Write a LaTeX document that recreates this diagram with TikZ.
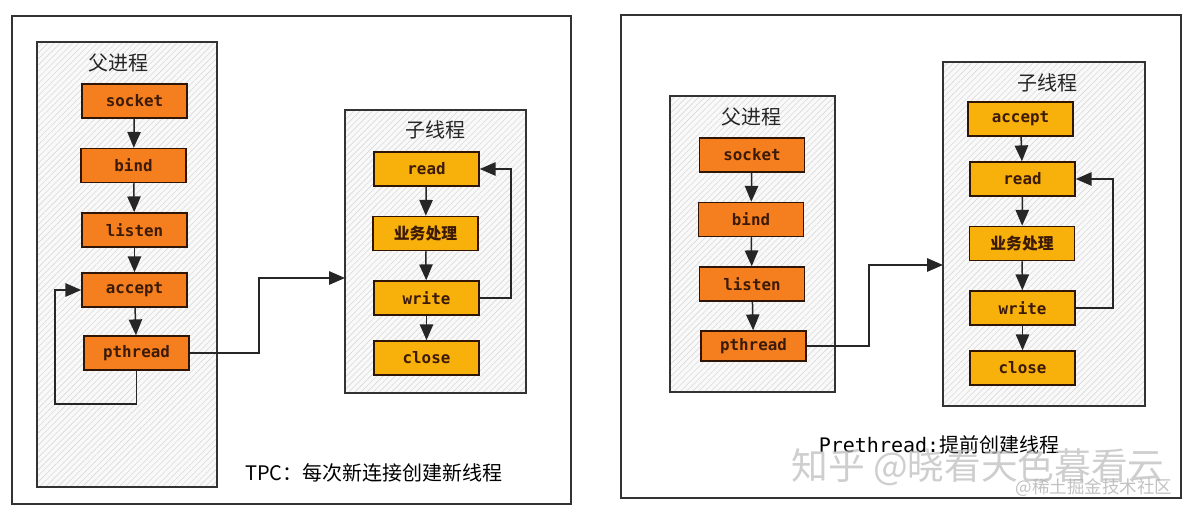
\documentclass[tikz,border=0pt]{standalone}
\usepackage{fontspec}
\setmonofont{DejaVu Sans Mono}
\newfontfamily\cjk{Noto Sans CJK SC}
\usetikzlibrary{arrows.meta,patterns.meta}
\definecolor{chengse}{HTML}{F57F1E}
\definecolor{huangse}{HTML}{F8B00A}
\definecolor{zise}{HTML}{3B1A08}
\definecolor{kuang}{HTML}{333333}

\begin{document}
\begin{tikzpicture}[x=0.6pt,y=-0.6pt,
  frame/.style={draw=kuang,line width=1.3pt},
  proc/.style={draw=kuang,line width=1.1pt,inner sep=0pt,preaction={fill=gray!5},
    pattern={Lines[angle=45,distance=2.6pt,line width=0.35pt]},pattern color=gray!30},
  fn/.style={draw=zise!80!black,line width=0.9pt,minimum width=63pt,minimum height=20.4pt,
    inner sep=0pt,font=\ttfamily\bfseries\fontsize{9.5}{11}\selectfont,text=zise},
  fu/.style={fn,fill=chengse},
  zi/.style={fn,fill=huangse},
  cn/.style={font=\cjk\bfseries\fontsize{9.5}{11}\selectfont},
  title/.style={font=\cjk\fontsize{12}{14}\selectfont,text=black!85},
  arr/.style={draw=black!85,line width=0.9pt,-{Triangle[length=9.5pt,width=8pt]}}]
\useasboundingbox (0,0) rectangle (1188,514);
\draw[frame] (12,16) rectangle (571,504);
\draw[frame] (621,15) rectangle (1181,498);

% TPC
\node[proc,minimum width=108pt,minimum height=267pt] (tjc) at (127,264.5) {};
\node[title] (tjcbt) at (118,63) {父进程};
\node[fu] (tsocket) at (134.5,101) {socket};
\node[fu] (tbind) at (133.5,165.5) {bind};
\node[fu] (tlisten) at (134.5,230) {listen};
\node[fu] (taccept) at (134.5,290) {accept};
\node[fu] (tpthread) at (136.5,353) {pthread};
\node[proc,minimum width=108.6pt,minimum height=169.8pt] (txc) at (435.5,251.5) {};
\node[title] (txcbt) at (435,130) {子线程};
\node[zi] (tread) at (426.5,169) {read};
\node[zi,cn] (tyw) at (425.5,233.5) {业务处理};
\node[zi] (twrite) at (426.5,298) {write};
\node[zi] (tclose) at (426.5,358) {close};
\coordinate (tin) at (345,278);
\foreach \a/\b in {tsocket/tbind,tbind/tlisten,tlisten/taccept,taccept/tpthread,
  tread/tyw,tyw/twrite,twrite/tclose}
  \draw[arr] (\a) -- (\b);
\draw[arr] (tpthread.south) |- (55,404) |- (taccept.west);
\draw[arr] (tpthread.east) -| (259,278) -- (tin);
\draw[arr] (twrite.east) -| (511,169) -- (tread.east);
\node[font=\cjk\fontsize{12}{14}\selectfont] (tpc) at (374,473) {TPC：每次新连接创建新线程};

% Prethread
\node[proc,minimum width=99pt,minimum height=177.6pt] (pjc) at (752.5,244) {};
\node[title] (pjcbt) at (751,117) {父进程};
\node[fu] (psocket) at (752,155) {socket};
\node[fu] (pbind) at (751,219.5) {bind};
\node[fu] (plisten) at (752,284) {listen};
\node[fu,minimum height=18pt] (ppthread) at (753.5,346) {pthread};
\node[proc,minimum width=121.2pt,minimum height=206.4pt] (pxc) at (1044,234) {};
\node[title] (pxcbt) at (1047,83) {子线程};
\node[zi] (paccept) at (1020.5,119) {accept};
\node[zi] (pread) at (1022.5,179) {read};
\node[zi,cn] (pyw) at (1022,243.5) {业务处理};
\node[zi] (pwrite) at (1022.5,308) {write};
\node[zi] (pclose) at (1022.5,368) {close};
\coordinate (pin) at (943,265);
\foreach \a/\b in {psocket/pbind,pbind/plisten,plisten/ppthread,
  paccept/pread,pread/pyw,pyw/pwrite,pwrite/pclose}
  \draw[arr] (\a) -- (\b);
\draw[arr] (ppthread.east) -| (869,265) -- (pin);
\draw[arr] (pwrite.east) -| (1113,179) -- (pread.east);
\node (ppre) at (939,445) {\fontsize{12}{14}\selectfont\ttfamily Prethread:\cjk 提前创建线程};

\node[font=\cjk\fontsize{22}{26}\selectfont,text=gray!55,opacity=.7] (sy1) at (978,467) {知乎 @晓看天色暮看云};
\node[font=\cjk\fontsize{10.5}{12}\selectfont,text=gray!60,opacity=.8] (sy2) at (1094,488) {@稀土掘金技术社区};
\end{tikzpicture}
\end{document}
